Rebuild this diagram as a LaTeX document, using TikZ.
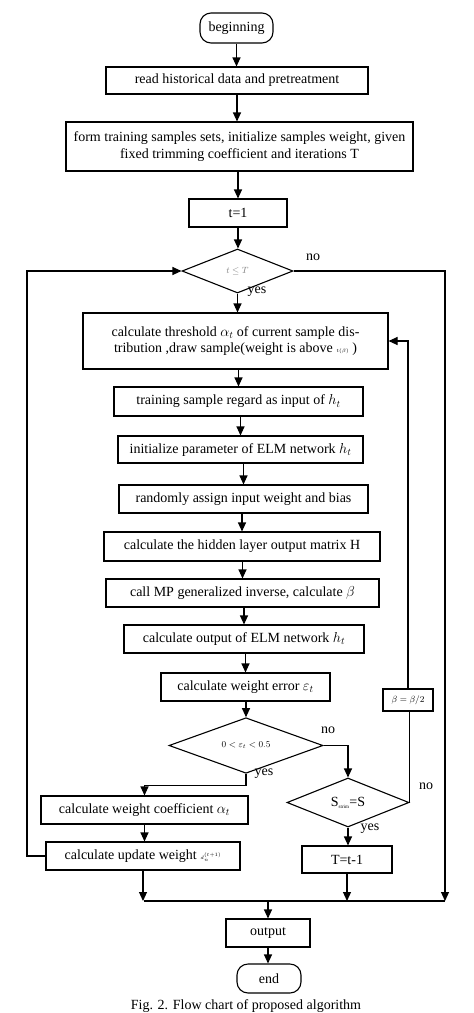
\documentclass[tikz,border=0pt]{standalone}
\usepackage{fontspec}
\setmainfont{Liberation Serif}
\usetikzlibrary{shapes.geometric,arrows.meta}
\begin{document}
\begin{tikzpicture}[x=1pt,y=-1pt, line width=1.1pt,
  font=\fontsize{14}{16.5}\selectfont,
  >={Triangle[length=9pt,width=8pt]},
  box/.style={draw, rectangle, inner sep=0pt, align=center},
  term/.style={draw, rectangle, rounded corners=11pt, inner sep=0pt},
  dec/.style={draw, diamond, inner sep=0pt},
  lbl/.style={inner sep=0pt}]
\useasboundingbox (0,0) rectangle (474,1013);
% nodes
\node[term, minimum width=73, minimum height=30] (begin) at (236.5,28) {beginning};
\node[box, minimum width=262, minimum height=27] (read) at (237,80.5) {read historical data and pretreatment};
\node[box, minimum width=347, minimum height=49] (form) at (239.5,146.5) {form training samples sets, initialize samples weight, given\\fixed trimming coefficient and iterations T};
\node[box, minimum width=98, minimum height=28] (t1) at (238,213) {t=1};
\node[dec, minimum width=111, minimum height=44] (c1) at (237.5,271) {\color{gray}\small$t\le T$};
\node[box, minimum width=305, minimum height=56] (thr) at (235.5,341) {calculate threshold $\alpha_t$ of current sample dis-\\tribution ,draw sample(weight is above {\tiny$t(\beta)$} )};
\node[box, minimum width=249, minimum height=29] (train) at (238.5,401.5) {training sample regard as input of $h_t$};
\node[box, minimum width=245, minimum height=27] (init) at (240.5,449.5) {initialize parameter of ELM network $h_t$};
\node[box, minimum width=249, minimum height=28] (rand) at (243.5,499) {randomly assign input weight and bias};
\node[box, minimum width=276, minimum height=29] (hid) at (242,546.5) {calculate the hidden layer output matrix H};
\node[box, minimum width=273, minimum height=28] (mp) at (242.5,593) {call MP generalized inverse, calculate $\beta$};
\node[box, minimum width=240, minimum height=28] (out) at (244,639) {calculate output of ELM network $h_t$};
\node[box, minimum width=169, minimum height=28] (err) at (245.5,687) {calculate weight error $\varepsilon_t$};
\node[dec, minimum width=154, minimum height=49] (c2) at (246,745.5) {\small$0<\varepsilon_t<0.5$};
\node[dec, minimum width=122, minimum height=49] (c3) at (348,802.5) {S\textsubscript{\tiny strim}=S};
\node[box, minimum width=50, minimum height=22] (beta) at (408,700) {\small$\beta=\beta/2$};
\node[box, minimum width=207, minimum height=28] (coef) at (144.5,810) {calculate weight coefficient $\alpha_t$};
\node[box, minimum width=194, minimum height=28] (upd) at (143,856) {calculate update weight {\tiny$d_n^{(t+1)}$}};
\node[box, minimum width=90, minimum height=27] (tm1) at (347,859.5) {T=t-1};
\node[box, minimum width=84, minimum height=28] (outp) at (268,933) {output};
\node[term, minimum width=64, minimum height=29] (end) at (269,978.5) {end};
\node[lbl, anchor=base] (cap) at (246,1009) {Fig. 2. Flow chart of proposed algorithm};
% labels
\node[lbl] (no1) at (313,257) {no};
\node[lbl] (yes1) at (257,292) {yes};
\node[lbl] (no2) at (328,730) {no};
\node[lbl] (yes2) at (264,774) {yes};
\node[lbl] (no3) at (426,786) {no};
\node[lbl] (yes3) at (370,829) {yes};
% helper coordinates
\coordinate (m1) at (144,901);
\coordinate (m3) at (445,901);
\coordinate (lft) at (27,0);
% main flow
\draw[->] (begin) -- (begin |- read.north);
\draw[->] (read) -- (read |- form.north);
\draw[->] (form.south -| t1) -- (t1.north);
\draw[->] (t1) -- (t1 |- c1.north);
\draw[->] (c1.south) -- (c1.south |- thr.north);
\draw[->] (train.north |- thr.south) -- (train.north);
\draw[->] (init.north |- train.south) -- (init.north);
\draw[->] (rand.north |- init.south) -- (rand.north);
\draw[->] (hid.north |- rand.south) -- (hid.north);
\draw[->] (mp.north |- hid.south) -- (mp.north);
\draw[->] (out.north |- mp.south) -- (out.north);
\draw[->] (err.north |- out.south) -- (err.north);
\draw[->] (c2.north |- err.south) -- (c2.north);
% decision branches
\draw[->] (c2.east) -| (c3.north);
\draw[->] (c2.south) -- ++(0,12) -| (coef.north);
\draw[->] (coef) -- (coef |- upd.north);
\draw (c3.east) -- (c3.east |- beta.south);
\draw[->] (beta.north) |- (thr.east);
\draw[->] (c3.south) -- (c3.south |- tm1.north);
% loop back
\draw[->] (upd.west) -- (upd.west -| lft) -- (lft |- c1.west) -- (c1.west);
% exit
\draw[->] (c1.east) -- (c1.east -| m3) -- (m3);
\draw[->] (upd.south) -- (upd.south |- m1);
\draw[->] (tm1) -- (tm1 |- m1);
\draw (m1) -- (m3);
\draw[->] (outp.north |- m1) -- (outp.north);
\draw[->] (outp) -- (outp |- end.north);
\end{tikzpicture}
\end{document}
